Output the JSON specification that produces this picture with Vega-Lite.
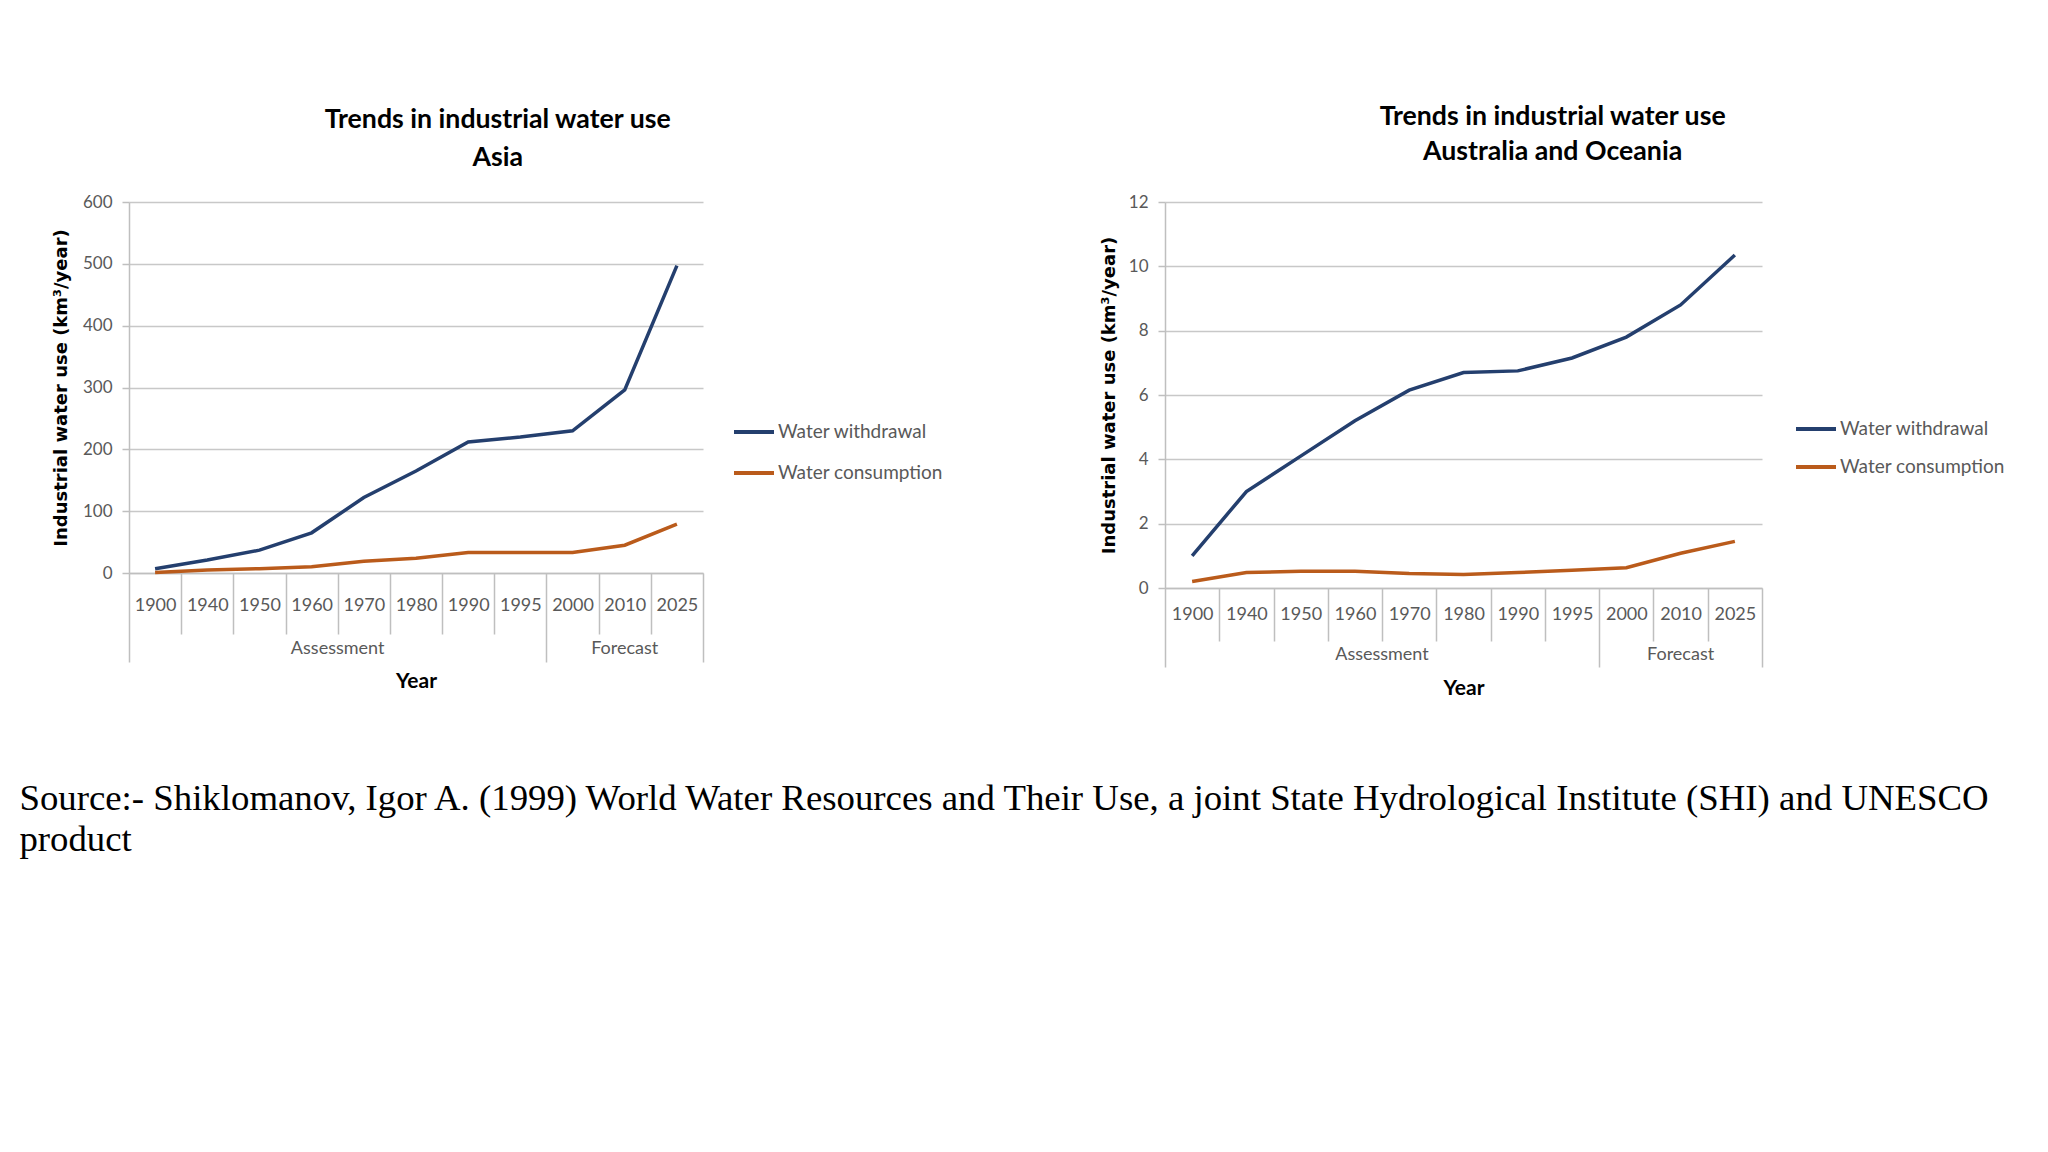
{
  "$schema": "https://vega.github.io/schema/vega-lite/v6.json",
  "background": "white",
  "padding": {"left": 19, "top": 104, "right": 0, "bottom": 0},
  "config": {
    "font": "Lato",
    "view": {"stroke": null},
    "axis": {"labelColor": "#595959", "labelFont": "Lato", "titleFont": "Lato", "titleColor": "#000000"},
    "legend": {"labelFont": "Lato", "labelColor": "#595959", "labelLimit": 400}
  },
  "datasets": {
    "asia": [
      {"year": "1900", "series": "Water withdrawal", "value": 7},
      {"year": "1940", "series": "Water withdrawal", "value": 21},
      {"year": "1950", "series": "Water withdrawal", "value": 37},
      {"year": "1960", "series": "Water withdrawal", "value": 65},
      {"year": "1970", "series": "Water withdrawal", "value": 122},
      {"year": "1980", "series": "Water withdrawal", "value": 165},
      {"year": "1990", "series": "Water withdrawal", "value": 212},
      {"year": "1995", "series": "Water withdrawal", "value": 220},
      {"year": "2000", "series": "Water withdrawal", "value": 230},
      {"year": "2010", "series": "Water withdrawal", "value": 296},
      {"year": "2025", "series": "Water withdrawal", "value": 497},
      {"year": "1900", "series": "Water consumption", "value": 1},
      {"year": "1940", "series": "Water consumption", "value": 5},
      {"year": "1950", "series": "Water consumption", "value": 7},
      {"year": "1960", "series": "Water consumption", "value": 10},
      {"year": "1970", "series": "Water consumption", "value": 19},
      {"year": "1980", "series": "Water consumption", "value": 24},
      {"year": "1990", "series": "Water consumption", "value": 33},
      {"year": "1995", "series": "Water consumption", "value": 33},
      {"year": "2000", "series": "Water consumption", "value": 33},
      {"year": "2010", "series": "Water consumption", "value": 45},
      {"year": "2025", "series": "Water consumption", "value": 79}
    ],
    "oceania": [
      {"year": "1900", "series": "Water withdrawal", "value": 1.0},
      {"year": "1940", "series": "Water withdrawal", "value": 3.0},
      {"year": "1950", "series": "Water withdrawal", "value": 4.1},
      {"year": "1960", "series": "Water withdrawal", "value": 5.2},
      {"year": "1970", "series": "Water withdrawal", "value": 6.15},
      {"year": "1980", "series": "Water withdrawal", "value": 6.7},
      {"year": "1990", "series": "Water withdrawal", "value": 6.75},
      {"year": "1995", "series": "Water withdrawal", "value": 7.15},
      {"year": "2000", "series": "Water withdrawal", "value": 7.8},
      {"year": "2010", "series": "Water withdrawal", "value": 8.8},
      {"year": "2025", "series": "Water withdrawal", "value": 10.35},
      {"year": "1900", "series": "Water consumption", "value": 0.2},
      {"year": "1940", "series": "Water consumption", "value": 0.48},
      {"year": "1950", "series": "Water consumption", "value": 0.52},
      {"year": "1960", "series": "Water consumption", "value": 0.52},
      {"year": "1970", "series": "Water consumption", "value": 0.45},
      {"year": "1980", "series": "Water consumption", "value": 0.42},
      {"year": "1990", "series": "Water consumption", "value": 0.48},
      {"year": "1995", "series": "Water consumption", "value": 0.55},
      {"year": "2000", "series": "Water consumption", "value": 0.63},
      {"year": "2010", "series": "Water consumption", "value": 1.08},
      {"year": "2025", "series": "Water consumption", "value": 1.45}
    ]
  },
  "title": {
    "text": ["Source:- Shiklomanov, Igor A. (1999) World Water Resources and Their Use, a joint State Hydrological Institute (SHI) and  UNESCO", "product"],
    "orient": "bottom",
    "anchor": "start",
    "frame": "bounds",
    "font": "Liberation Serif",
    "fontSize": 36.8,
    "fontWeight": "normal",
    "color": "#000000",
    "lineHeight": 41,
    "offset": 83,
    "dx": -33
  },
  "spacing": 157,
  "resolve": {"scale": {"color": "independent"}, "legend": {"color": "independent"}},
  "hconcat": [
    {
      "data": {"name": "asia"},
      "width": 574,
      "height": 371,
      "title": {
        "text": ["Trends in industrial water use", "Asia"],
        "frame": "bounds",
        "anchor": "middle",
        "font": "Lato",
        "fontSize": 26.7,
        "fontWeight": "bold",
        "color": "#000000",
        "lineHeight": 38,
        "offset": 21
      },
      "layer": [
        {
          "mark": {"type": "line", "strokeWidth": 3.5},
          "encoding": {
            "x": {
              "field": "year", "type": "ordinal", "bandPosition": 0.5,
              "scale": {"type": "band", "paddingInner": 0, "paddingOuter": 0},
              "axis": {
                "title": null, "orient": "bottom", "tickBand": "extent",
                "tickSize": {"condition": {"test": "datum.value == '1995' || datum.value == '2025' || datum.value == null", "value": 89}, "value": 61},
                "labelPadding": {"condition": {"test": "datum.value == '1995' || datum.value == '2025' || datum.value == null", "value": -66}, "value": -38},
                "tickColor": "#BFBFBF", "tickWidth": 1.5,
                "domainColor": "#BFBFBF", "domainWidth": 1.5,
                "labelAngle": 0, "labelFontSize": 18, "labelBaseline": "top",
                "grid": false
              }
            },
            "y": {
              "field": "value", "type": "quantitative",
              "scale": {"domain": [0, 600], "nice": false},
              "axis": {
                "values": [0, 100, 200, 300, 400, 500, 600],
                "grid": true, "gridColor": "#C8C8C8", "gridWidth": 1.5,
                "domainColor": "#BFBFBF", "domainWidth": 1.5,
                "tickColor": "#BFBFBF", "tickSize": 7, "tickWidth": 1.5,
                "labelFontSize": 17, "labelPadding": 10,
                "title": "Industrial water use (km³/year)",
                "titleFont": "DejaVu Sans", "titleFontSize": 18, "titleFontWeight": "bold", "titlePadding": 12
              }
            },
            "color": {
              "field": "series", "type": "nominal",
              "scale": {"domain": ["Water withdrawal", "Water consumption"], "range": ["#243F6E", "#BA5B1B"]},
              "legend": {
                "title": null, "orient": "none", "legendX": 603, "legendY": 208,
                "symbolType": "stroke", "symbolSize": 1600, "symbolStrokeWidth": 4,
                "labelFontSize": 19, "labelOffset": 2, "rowPadding": 9
              }
            }
          }
        },
        {
          "mark": {"type": "line", "opacity": 0},
          "encoding": {
            "x": {
              "field": "year", "type": "ordinal", "bandPosition": 0.5,
              "axis": {
                "orient": "bottom", "values": ["1960", "2010"],
                "labelExpr": "datum.value == '1960' ? 'Assessment' : 'Forecast'",
                "labelOffset": {"condition": {"test": "datum.value == '1960'", "value": 26}, "value": 0},
                "ticks": false, "domain": false, "grid": false,
                "labelAngle": 0, "labelFontSize": 18, "labelPadding": 66, "labelBaseline": "top",
                "title": "Year", "titleFontSize": 21, "titleFontWeight": "bold", "titlePadding": 13
              }
            },
            "y": {"field": "value", "type": "quantitative"},
            "detail": {"field": "series"}
          }
        }
      ],
      "resolve": {"axis": {"x": "independent"}}
    },
    {
      "data": {"name": "oceania"},
      "width": 597,
      "height": 386,
      "title": {
        "text": ["Trends in industrial water use", "Australia and Oceania"],
        "frame": "bounds",
        "anchor": "middle",
        "font": "Lato",
        "fontSize": 26.7,
        "fontWeight": "bold",
        "color": "#000000",
        "lineHeight": 35,
        "offset": 27
      },
      "layer": [
        {
          "mark": {"type": "line", "strokeWidth": 3.5},
          "encoding": {
            "x": {
              "field": "year", "type": "ordinal", "bandPosition": 0.5,
              "scale": {"type": "band", "paddingInner": 0, "paddingOuter": 0},
              "axis": {
                "title": null, "orient": "bottom", "tickBand": "extent",
                "tickSize": {"condition": {"test": "datum.value == '1995' || datum.value == '2025' || datum.value == null", "value": 79}, "value": 53},
                "labelPadding": {"condition": {"test": "datum.value == '1995' || datum.value == '2025' || datum.value == null", "value": -62}, "value": -36},
                "tickColor": "#BFBFBF", "tickWidth": 1.5,
                "domainColor": "#BFBFBF", "domainWidth": 1.5,
                "labelAngle": 0, "labelFontSize": 18, "labelBaseline": "top",
                "grid": false
              }
            },
            "y": {
              "field": "value", "type": "quantitative",
              "scale": {"domain": [0, 12], "nice": false},
              "axis": {
                "values": [0, 2, 4, 6, 8, 10, 12],
                "grid": true, "gridColor": "#C8C8C8", "gridWidth": 1.5,
                "domainColor": "#BFBFBF", "domainWidth": 1.5,
                "tickColor": "#BFBFBF", "tickSize": 7, "tickWidth": 1.5,
                "labelFontSize": 17, "labelPadding": 10,
                "title": "Industrial water use (km³/year)",
                "titleFont": "DejaVu Sans", "titleFontSize": 18, "titleFontWeight": "bold", "titlePadding": 10
              }
            },
            "color": {
              "field": "series", "type": "nominal",
              "scale": {"domain": ["Water withdrawal", "Water consumption"], "range": ["#243F6E", "#BA5B1B"]},
              "legend": {
                "title": null, "orient": "none", "legendX": 629, "legendY": 205,
                "symbolType": "stroke", "symbolSize": 1600, "symbolStrokeWidth": 4,
                "labelFontSize": 19, "labelOffset": 2, "rowPadding": 6
              }
            }
          }
        },
        {
          "mark": {"type": "line", "opacity": 0},
          "encoding": {
            "x": {
              "field": "year", "type": "ordinal", "bandPosition": 0.5,
              "axis": {
                "orient": "bottom", "values": ["1960", "2010"],
                "labelExpr": "datum.value == '1960' ? 'Assessment' : 'Forecast'",
                "labelOffset": {"condition": {"test": "datum.value == '1960'", "value": 27}, "value": 0},
                "ticks": false, "domain": false, "grid": false,
                "labelAngle": 0, "labelFontSize": 18, "labelPadding": 57, "labelBaseline": "top",
                "title": "Year", "titleFontSize": 21, "titleFontWeight": "bold", "titlePadding": 14
              }
            },
            "y": {"field": "value", "type": "quantitative"},
            "detail": {"field": "series"}
          }
        }
      ],
      "resolve": {"axis": {"x": "independent"}}
    }
  ]
}
